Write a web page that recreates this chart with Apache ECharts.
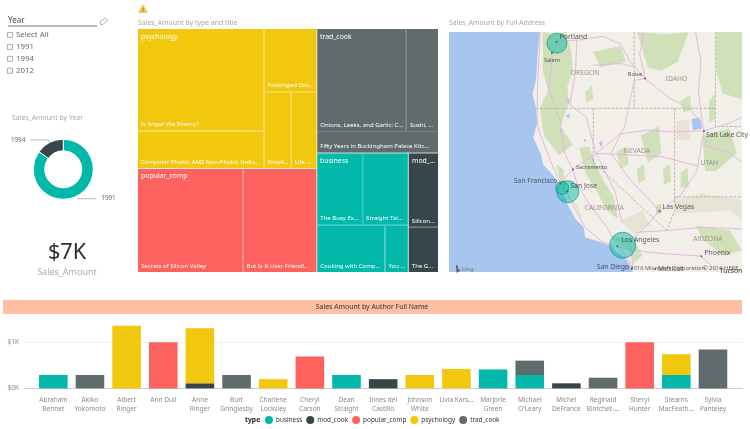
<!DOCTYPE html>
<html><head><meta charset="utf-8">
<style>html,body{margin:0;padding:0;background:#fff}#c{width:750px;height:429px}</style>
<script src="https://cdn.jsdelivr.net/npm/echarts@6/dist/echarts.min.js"></script>
</head><body><div id="c"></div>
<script>
// ---------- data ----------
const typeNames = ['business','mod_cook','popular_comp','psychology','trad_cook'];
const typeColors = {business:'#01B8AA',mod_cook:'#374649',popular_comp:'#FD625E',psychology:'#F2C80F',trad_cook:'#5F6B6D'};
const typeTints = {business:'#2cc3b7',mod_cook:'#566366',popular_comp:'#fd7f7c',psychology:'#f5d440',trad_cook:'#798385'};

const authors = ['Abraham\nBennet','Akiko\nYokomoto','Albert\nRinger','Ann Dull','Anne\nRinger','Burt\nGringlesby','Charlene\nLocksley','Cheryl\nCarson','Dean\nStraight','Innes del\nCastillo','Johnson\nWhite','Livia Kars...','Marjorie\nGreen',"Michael\nO'Leary",'Michel\nDeFrance','Reginald\nBlotchet-...','Sheryl\nHunter','Stearns\nMacFeath...','Sylvia\nPanteley'];
const businessSales = [290,null,null,null,null,null,null,null,290,null,null,null,410,290,null,null,null,290,null];
const modCookSales  = [null,null,null,null,110,null,null,null,null,200,null,null,null,null,110,null,null,null,null];
const popularSales  = [null,null,null,1000,null,null,null,690,null,null,null,null,null,null,null,null,1000,null,null];
const psychologySales=[null,null,1355,null,1188,null,200,null,null,null,290,420,null,null,null,null,null,450,null];
const tradCookSales = [null,290,null,null,null,290,null,null,null,null,null,null,null,310,null,230,null,null,840];
const barSeriesValues = [businessSales,modCookSales,popularSales,psychologySales,tradCookSales];

const psychologyTitles = [['Is Anger the Enemy?',12852],['Computer Phobic AND Non-Phobic Indiv...',4725],['Prolonged Dat...',3307],['Emoti...',2065],['Life ...',1950]];
const popularTitles = [['Secrets of Silicon Valley',10868],['But Is It User Friendl...',7607]];
const tradCookTitles = [['Onions, Leeks, and Garlic: C...',9150],['Sushi, ...',3280],['Fifty Years in Buckingham Palace Kitc...',2600]];
const businessTitles = [['The Busy Ex...',3270],['Straight Tal...',3265],['Cooking with Comp...',3200],['You ...',1094]];
const modCookTitles = [['Silicon...',2220],['The G...',1350]];

const yearNames = ['1991','1994'];
const yearSales = [5950,1050];
const slicerItems = ['Select All','1991','1994','2012'];

const bubbles = [['Portland',-122.66,45.45,1000],['San Jose',-121.87,37.30,1211],['San Francisco',-122.27,37.52,423],['Los Angeles',-117.84,34.12,1692]];
const cityLabels = [['Portland',-122.68,45.52],['Salem',-123.03,44.94],['Boise',-116.2,43.6],['Salt Lake City',-111.89,40.76],['Sacramento',-121.49,38.58],['San Francisco',-122.42,37.78],['San Jose',-121.89,37.33],['Las Vegas',-115.14,36.17],['Los Angeles',-118.24,34.05],['San Diego',-117.16,32.71],['Phoenix',-112.07,33.45],['Mexicali',-115.47,32.66]];
const stateLabels = [['OREGON',-120.6,43.9],['IDAHO',-113.9,43.6],['NEVADA',-116.8,39.64],['UTAH',-111.5,38.94],['CALIFORNIA',-119.2,36.36],['ARIZONA',-111.6,34.5]];

const mapBounds = [-130.57,32.48,-109.1,46.02];
const coast = [[-123.9,46.02],[-124,45.5],[-124.1,44.6],[-124.2,43.5],[-124.45,42.8],[-124.2,42],[-124.1,41.2],[-124.4,40.4],[-123.8,39.4],[-123.7,38.9],[-123,38.3],[-122.55,37.8],[-122.5,37.3],[-122,36.95],[-121.9,36.6],[-121.3,35.7],[-120.7,35.2],[-120.6,34.6],[-119.3,34.25],[-118.5,34],[-118.4,33.75],[-117.7,33.4],[-117.25,32.8],[-117.1,32.48],[-109.1,32.48],[-109.1,46.02]];
const forests = [
 [[-123.7,46.02],[-122.6,45.9],[-122,46.02],[-121.6,45],[-121.5,44],[-121.9,43.2],[-121.8,42.3],[-122.4,41],[-121.5,40],[-122.5,39.4],[-123.6,40.5],[-123.9,42],[-123.3,43],[-123.7,44]],
 [[-121,39.8],[-120.3,39.9],[-120,39.2],[-119.3,38],[-118.5,37],[-118.2,35.7],[-119,36.2],[-119.8,37.4],[-120.6,38.4]],
 [[-116.8,46.02],[-114.6,45.9],[-113,46.02],[-113.8,44.5],[-115,44],[-116,44.2]],
 [[-120,45],[-118,45.3],[-117.6,44.5],[-119.5,44.2]],
 [[-112,40.5],[-110,40.9],[-109.5,39.5],[-111,38.5],[-111.8,38.5]],
 [[-112.5,35.3],[-110,35],[-109.1,33.8],[-110.5,33.5],[-112,34.5]],
 [[-116.5,40.5],[-115.2,41],[-115,39.5],[-116,39]],
 [[-118.8,34.7],[-117,34.4],[-116.4,33.5],[-117,33],[-117.3,33.7],[-118.2,34.3]],
 [[-111,46.02],[-109.1,46.02],[-109.1,42.5],[-110.5,42.8],[-111,44]],
 [[-122.7,38.9],[-122.2,38.6],[-122,37.4],[-121.2,36.3],[-120.7,35.6],[-121.3,36.6],[-122.3,37.5]],
 [[-118.3,39.6],[-117.6,39.9],[-117.4,38.9],[-118,38.6]],
 [[-114.9,38.6],[-114.4,38.9],[-114.3,37.9],[-114.8,37.7]],
 [[-116.8,38.6],[-116.3,38.9],[-116.2,38],[-116.7,37.8]],
 [[-120.6,42.9],[-120.1,43.2],[-120,42.5],[-120.5,42.3]],
 [[-115.4,36.5],[-115,36.6],[-115,36],[-115.4,36]],
 [[-113.6,38.4],[-113.1,38.7],[-113,37.6],[-113.6,37.5]],
 [[-113.6,42.4],[-112.9,42.7],[-112.8,41.9],[-113.4,41.8]],
 [[-111.5,42.4],[-111.1,42.8],[-111.1,41.4],[-111.5,41.2]]
];
const lakes = [
 [[-112.8,41.4],[-112.2,41.5],[-112,40.9],[-112.7,40.8]],
 [[-121.95,42.5],[-121.7,42.5],[-121.8,42.2]],
 [[-120.1,39.2],[-119.95,39.2],[-120,38.9]],
 [[-122.5,40.85],[-122.25,40.85],[-122.35,40.6]],
 [[-119.6,40.1],[-119.3,40.2],[-119.4,39.85]],
 [[-111.8,40.3],[-111.65,40.3],[-111.75,40.05]],
 [[-122,41.6],[-121.7,41.7],[-121.8,41.4]],
 [[-120.7,40.3],[-120.5,40.3],[-120.6,40.1]]
];
const deserts = [
 [[-114,36],[-110,36.2],[-109.1,35.6],[-109.1,36.8],[-112,37.2],[-114,36.8]],
 [[-113.9,41.3],[-113,41.4],[-112.9,40.2],[-113.9,40.3]],
 [[-118,35.6],[-116.4,36.2],[-115.8,35.3],[-117.2,34.9]]
];
const highways = [
 [[-122.68,45.52],[-123,44.9],[-123.1,44],[-123.3,43.2],[-122.9,42.3],[-122.4,41.3],[-122.3,40.4],[-122.1,39.5],[-121.5,38.6],[-121.2,37.8],[-120.4,36.7],[-119,35.2],[-118.4,34.3],[-118.1,34],[-117.4,33.2],[-117.1,32.7]],
 [[-122.68,45.52],[-121.2,45.6],[-119.3,45.8],[-118,45.4],[-117.3,44.5],[-116.2,43.6],[-114.5,42.6],[-113,42],[-112,41.2]],
 [[-122.4,37.8],[-121.5,38.6],[-119.8,39.5],[-118,40.6],[-116,40.8],[-114.1,40.7],[-111.9,40.76],[-110,41.2],[-109.1,41.5]],
 [[-117.1,32.7],[-117.2,33.8],[-117.3,34.4],[-116.2,35.2],[-115.14,36.17],[-113.6,37.1],[-112.4,38.5],[-111.9,40.76],[-112,41.2],[-112.3,42.9],[-112.1,44.5],[-112.5,46]],
 [[-117,34.9],[-114.6,35],[-112,35.2],[-109.1,35.1]],
 [[-118.2,34],[-116,33.7],[-114.6,33.6],[-112.1,33.45],[-110.9,32.5]],
 [[-117.9,35.5],[-118.4,37.3],[-119.8,39.5],[-120.5,41.5],[-121.7,42.2],[-121.3,44],[-121.2,45.6]],
 [[-115.14,36.17],[-117.3,38],[-118.7,39.5],[-117.7,41],[-117,43.5],[-116.2,43.6],[-116.6,44.9],[-116.3,46]],
 [[-112,40],[-110,39.5],[-109.1,39]],
 [[-122.4,37.8],[-123.2,39.2],[-124.1,41],[-124.1,43],[-123.95,45],[-123.9,46]],
 [[-122.4,37.8],[-121.6,36.7],[-120.6,35.2],[-119.3,34.3],[-118.5,34.1]],
 [[-120,44.3],[-118,44.4],[-116.9,44.2]],
 [[-119.8,39.5],[-117,39.4],[-114.9,39.3],[-112.4,38.8]]
];
const stateBorders = [
 [[-124.2,42],[-111.05,42]],
 [[-120,42],[-120,39],[-114.6,35]],
 [[-114.04,42],[-114.04,36.2],[-114.6,35]],
 [[-117,46.02],[-117,42]],
 [[-111.05,46.02],[-111.05,41],[-109.1,41]],
 [[-114.04,37],[-109.1,37]]
];

// ---------- helpers ----------
const F = '"Noto Sans","Open Sans",sans-serif';
const merc = lat => Math.log(Math.tan(Math.PI/4 + lat*Math.PI/360))*180/Math.PI;
const imerc = y => (2*Math.atan(Math.exp(y*Math.PI/180)) - Math.PI/2)*180/Math.PI;
const closeRing = r => r.concat([r[0]]);
const [w,s,e,n] = mapBounds;
echarts.registerMap('west',{type:'FeatureCollection',features:[
 {type:'Feature',properties:{name:'ocean'},geometry:{type:'Polygon',coordinates:[[[w,s],[e,s],[e,n],[w,n],[w,s]]]}},
 {type:'Feature',properties:{name:'land'},geometry:{type:'Polygon',coordinates:[closeRing(coast)]}},
 {type:'Feature',properties:{name:'desert'},geometry:{type:'MultiPolygon',coordinates:deserts.map(r=>[closeRing(r)])}},
 {type:'Feature',properties:{name:'forest'},geometry:{type:'MultiPolygon',coordinates:forests.map(r=>[closeRing(r)])}},
 {type:'Feature',properties:{name:'lake'},geometry:{type:'MultiPolygon',coordinates:lakes.map(r=>[closeRing(r)])}}
]});

const node = (type,[name,value]) => ({name,value,itemStyle:{color:typeColors[type],borderWidth:0}});
const group = (type,titles) => ({name:type,itemStyle:{color:typeColors[type],borderColor:typeTints[type],borderWidth:0,gapWidth:1},children:titles.map(t=>node(type,t))});
const treeData = [group('psychology',psychologyTitles),group('popular_comp',popularTitles),group('trad_cook',tradCookTitles),group('business',businessTitles),group('mod_cook',modCookTitles)];

const txt = (x,y,text,o={}) => ({type:'text',x,y,z:100,silent:true,style:Object.assign({text,fill:'#a8a8a8',fontSize:6.9,fontFamily:F,align:'left',verticalAlign:'middle'},o)});
const slicer = [];
slicerItems.forEach((t,i)=>{
  const y = 35+i*11.9;
  slicer.push({type:'rect',z:100,silent:true,shape:{x:7.5,y:y-2.5,width:5,height:5},style:{fill:'#fff',stroke:'#999',lineWidth:0.8}});
  slicer.push(txt(16,y,t,{fill:'#6a6a6a',fontSize:7.8}));
});
const graphics = [
  txt(8,21,'Year',{fill:'#444',fontSize:8}),
  {type:'line',z:100,silent:true,shape:{x1:8,y1:26,x2:97,y2:26},style:{stroke:'#777',lineWidth:1}},
  {type:'polygon',z:100,silent:true,shape:{points:[[100,22],[105,18],[107.5,20],[103,24.5],[101,24.5]]},style:{fill:'#fff',stroke:'#999',lineWidth:0.8}},
  ...slicer,
  {type:'polygon',z:100,silent:true,shape:{points:[[138.5,12.5],[147.5,12.5],[143,5]]},style:{fill:'#f0c540',stroke:'#e2b52f',lineWidth:0.5}},
  txt(143,9.8,'!',{fill:'#5a4a10',fontSize:6,align:'center'}),
  txt(138,23,'Sales_Amount by type and title'),
  txt(449,23.5,'Sales_Amount by Full Address'),
  txt(12,118.5,'Sales_Amount by Year'),
  txt(67,253,'$7K',{fill:'#2f2f2f',fontSize:21.7,align:'center'}),
  txt(67,272.5,'Sales_Amount',{fill:'#aaa',fontSize:9,align:'center'}),
  txt(141,37,'psychology',{fill:'#fff',fontSize:6.9}),
  txt(141,176.5,'popular_comp',{fill:'#fff',fontSize:6.9}),
  txt(320,37,'trad_cook',{fill:'#fff',fontSize:6.9}),
  txt(320,161,'business',{fill:'#fff',fontSize:6.9}),
  txt(412,161,'mod_...',{fill:'#fff',fontSize:6.9}),
  txt(624,268.5,'\u00a9 2016 Microsoft Corporation',{fill:'#666',fontSize:5.8}),
  txt(703,268.5,'\u00a9 2016 HERE',{fill:'#666',fontSize:5.8}),
  txt(731,271,'Tucson',{fill:'#333',fontSize:6.8,align:'center'}),
  txt(462,269,'bing',{fill:'#777',fontSize:5.5}),
  {type:'polygon',z:100,silent:true,shape:{points:[[456,265],[458,265.6],[458,269],[461,270],[456.5,273]]},style:{fill:'#666'}},
  {type:'rect',z:1,silent:true,shape:{x:3,y:300,width:739,height:14},style:{fill:'#FFBFA3'}},
  txt(372,307.3,'Sales Amount by Author Full Name',{fill:'#333',fontSize:6.9,align:'center'}),
  txt(245,420.5,'type',{fill:'#222',fontSize:6.8,fontWeight:'bold'})
];

const cityPlacement = {
 'Portland':['right',[0,-5]],'Salem':['bottom',[0,1]],'Boise':['left',[0,-4]],'Salt Lake City':['right',[-1,4]],
 'Sacramento':['right',[0,-2]],'San Francisco':['left',[0,-2]],'San Jose':['right',[0,-5]],'Las Vegas':['right',[0,-4]],
 'Los Angeles':['right',[1,-6]],'San Diego':['left',[0,-1]],'Phoenix':['right',[0,-3]],'Mexicali':['right',[0,0]]};
const smallCities = ['Salem','Boise','Sacramento'];

const barSeries = typeNames.map((t,i)=>({
  name:t,type:'bar',stack:'sales',xAxisIndex:0,yAxisIndex:0,data:barSeriesValues[i],
  barCategoryGap:'22%',itemStyle:{color:typeColors[t]},emphasis:{disabled:true}
}));

const option = {
  animation:false,
  textStyle:{fontFamily:F},
  graphic:graphics,
  legend:{left:260,top:411,itemWidth:8,itemHeight:8,itemGap:4,icon:'circle',data:typeNames,
    textStyle:{fontSize:6.4,color:'#333',fontFamily:F,padding:[0,0,0,-2]},selectedMode:false},
  geo:{map:'west',left:449,top:32,width:293,height:240,silent:true,roam:false,
    projection:{project:p=>[p[0],-merc(p[1])],unproject:p=>[p[0],imerc(-p[1])]},
    itemStyle:{borderWidth:0,areaColor:'#f0eee7'},
    label:{show:false},emphasis:{disabled:true},
    regions:[
      {name:'ocean',itemStyle:{areaColor:'#a6c5ef',borderWidth:0}},
      {name:'land',itemStyle:{areaColor:'#f1efe8',borderWidth:0}},
      {name:'desert',itemStyle:{areaColor:'#e9e3d5',borderWidth:0}},
      {name:'forest',itemStyle:{areaColor:'#d0e0b8',borderWidth:0}},
      {name:'lake',itemStyle:{areaColor:'#a6c5ef',borderWidth:0}}
    ]},
  grid:[
    {left:35,right:18.7,top:319,height:69.4},
    {left:24,right:8,top:319,height:69.4}
  ],
  xAxis:[
    {type:'category',gridIndex:0,data:authors,axisLine:{show:false},axisTick:{show:false},
      axisLabel:{interval:0,color:'#8a8a8a',fontSize:6.5,lineHeight:9,margin:7,fontFamily:F}},
    {type:'value',gridIndex:1,min:0,max:1,axisLabel:{show:false},axisTick:{show:false},splitLine:{show:false},
      axisLine:{show:true,lineStyle:{color:'#cfcfcf',width:1}}}
  ],
  yAxis:[
    {type:'value',gridIndex:0,min:0,max:1500,interval:500,show:false,splitLine:{show:false}},
    {type:'value',gridIndex:1,min:0,max:1500,interval:1000,axisLine:{show:false},axisTick:{show:false},
      splitLine:{show:true,showMaxLine:false,lineStyle:{color:'#efefef',width:1}},
      axisLabel:{showMaxLabel:false,color:'#8a8a8a',fontSize:6.5,margin:5,fontFamily:F,formatter:v=>'$'+(v/1000)+'K'}}
  ],
  series:[
    {type:'treemap',left:138,top:29,width:300,height:243,roam:false,nodeClick:false,breadcrumb:{show:false},
      data:treeData,visibleMin:0,silent:true,
      levels:[{itemStyle:{gapWidth:1,borderWidth:0,borderColor:'#e8e8e8'}}],
      label:{show:true,position:'insideBottomLeft',color:'#fff',fontSize:6,fontFamily:F,padding:[0,0,0,0],distance:3,overflow:'none',formatter:'{b}'},
      upperLabel:{show:false}},
    {type:'pie',center:[63.3,169.3],radius:[18.5,30],startAngle:90,clockwise:true,silent:true,
      data:yearNames.map((name,i)=>({name,value:yearSales[i],itemStyle:{color:[typeColors.business,typeColors.mod_cook][i]}})),
      itemStyle:{borderColor:'#fff',borderWidth:1},
      label:{show:true,color:'#666',fontSize:6.3,fontFamily:F,formatter:'{b}',overflow:'none'},
      labelLine:{show:true,length:3,length2:18,lineStyle:{color:'#aaa',width:0.8}},emphasis:{disabled:true}},
    {type:'lines',coordinateSystem:'geo',polyline:true,silent:true,z:3,data:stateBorders.map(c=>({coords:c})),
      lineStyle:{color:'#a0a09a',width:0.7,type:'dashed',opacity:1}},
    {type:'lines',coordinateSystem:'geo',polyline:true,silent:true,z:3,data:highways.map(c=>({coords:c})),
      lineStyle:{color:'#e6b8e0',width:1,opacity:1}},
    {type:'scatter',coordinateSystem:'geo',silent:true,z:5,symbolSize:0,
      data:stateLabels.map(([name,lon,lat])=>({name,value:[lon,lat]})),
      label:{show:true,position:'inside',formatter:'{b}',color:'#8d8078',fontSize:6.8,fontFamily:F}},
    {type:'scatter',coordinateSystem:'geo',silent:true,z:6,symbolSize:d=>0.632*Math.sqrt(d[2]),
      data:bubbles.map(([name,lon,lat,v])=>({name,value:[lon,lat,v]})),
      itemStyle:{color:'rgba(1,184,170,0.6)',borderColor:'#0a8f86',borderWidth:0.8}},
    {type:'scatter',coordinateSystem:'geo',silent:true,z:7,symbolSize:2,
      data:cityLabels.map(([name,lon,lat])=>({name,value:[lon,lat],label:{position:cityPlacement[name][0],offset:cityPlacement[name][1],fontSize:smallCities.includes(name)?5.6:6.8}})),
      itemStyle:{color:'#444'},
      label:{show:true,formatter:'{b}',color:'#333',fontFamily:F,distance:2}},
    ...barSeries
  ]
};
const chart = echarts.init(document.getElementById('c'),null,{renderer:'canvas'});
chart.setOption(option);
</script></body></html>
